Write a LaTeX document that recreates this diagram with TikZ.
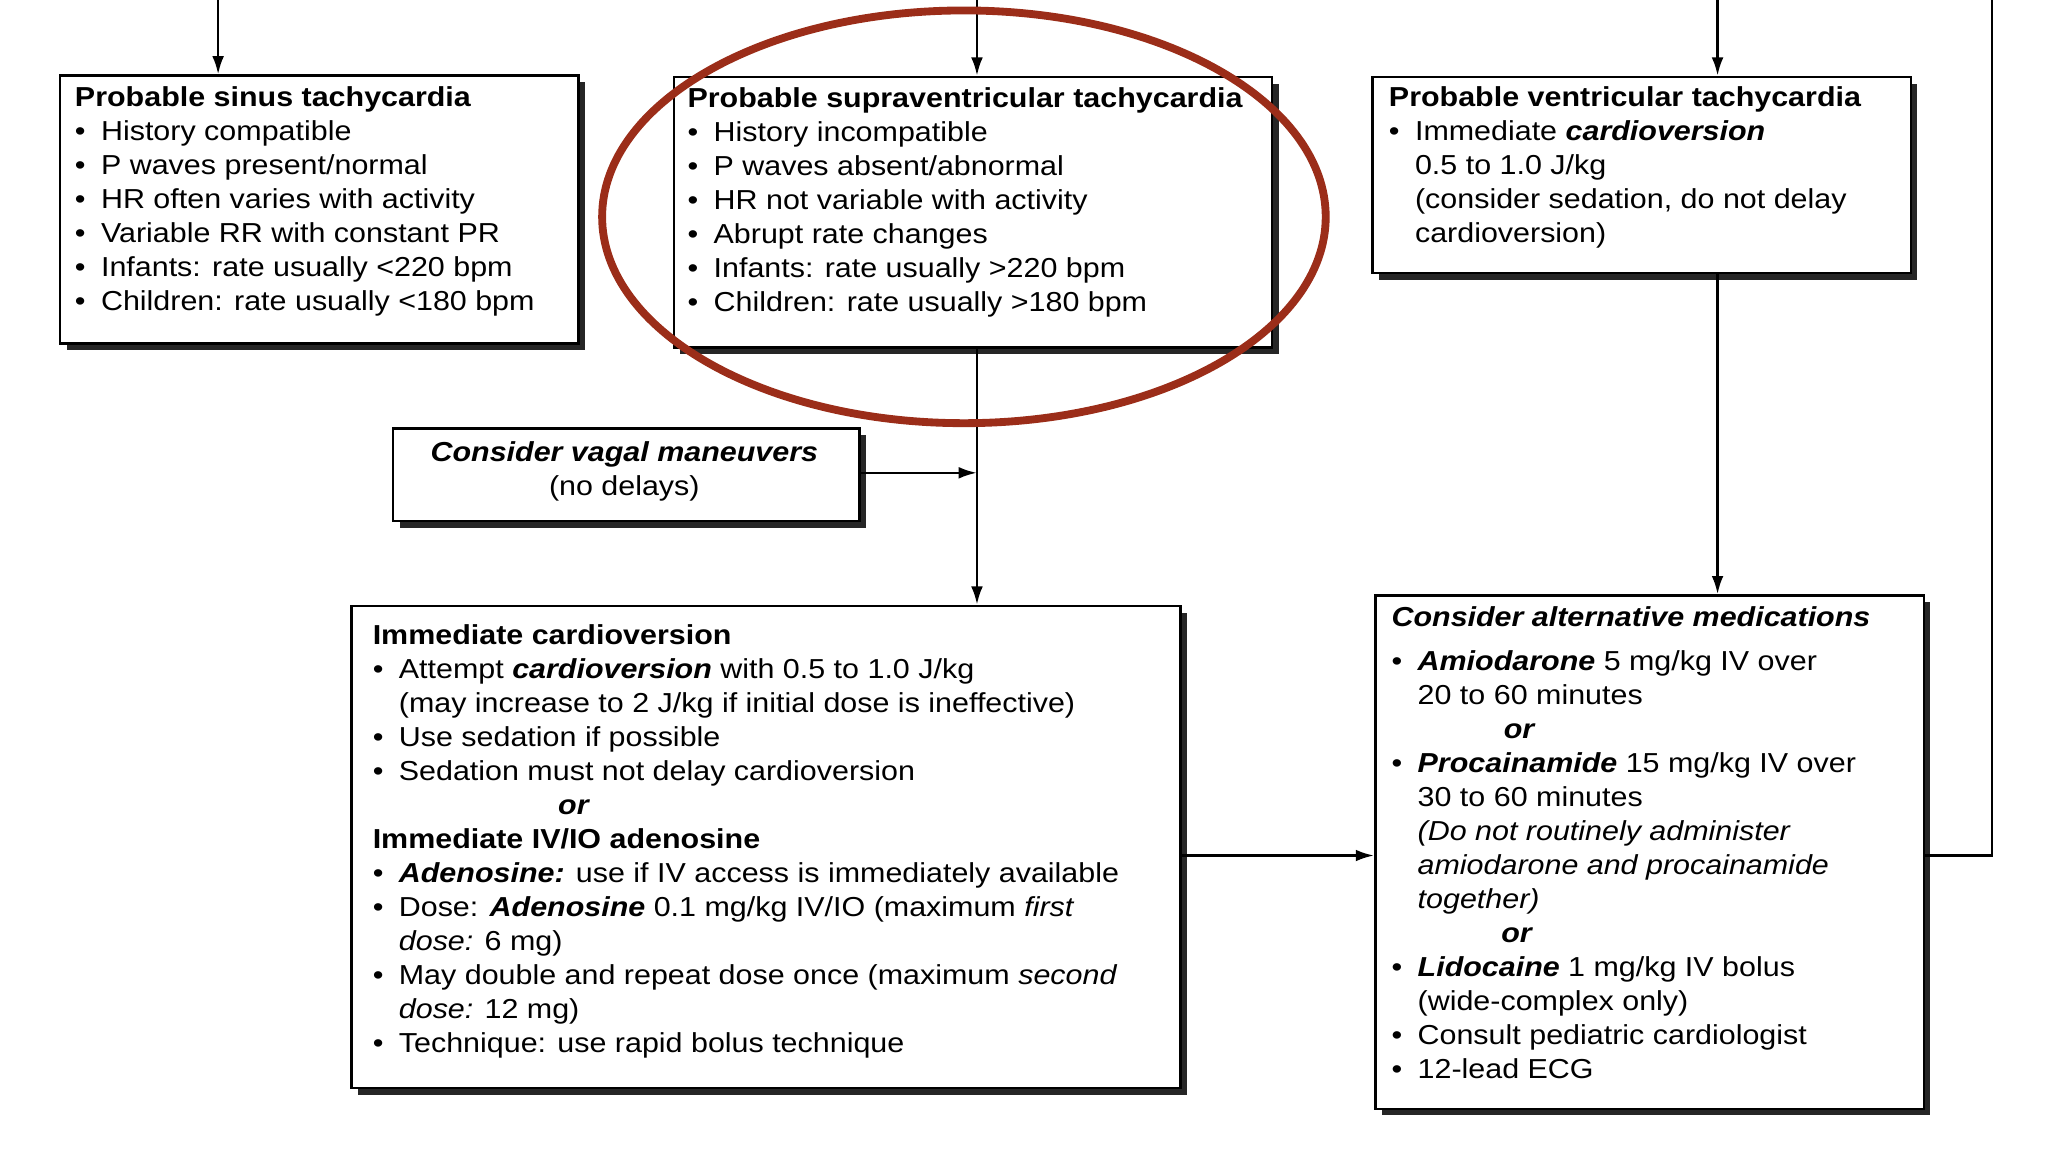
\documentclass[tikz,border=0pt]{standalone}
\usepackage{fontspec}
\setmainfont[FakeStretch=1.11]{Liberation Sans}
\usetikzlibrary{arrows.meta,shadows}
\newcommand\bu{\makebox[10pt][l]{\textbullet}}
\newcommand\ind{\hspace*{10pt}}
\newcommand\bi[1]{\textbf{\textit{#1}}}
\begin{document}
\begin{tikzpicture}[x=0.5pt,y=-0.5pt,
 box/.style={draw=black,line width=1pt,fill=white,anchor=north west,inner sep=0pt,
   drop shadow={shadow xshift=2.5pt,shadow yshift=-2.5pt,fill=black,opacity=0.85}},
 txt/.style={anchor=north west,align=left,inner sep=0pt,font=\fontsize{10.5}{13}\selectfont},
 arr/.style={line width=1pt,-{Latex[length=7pt,width=4.5pt]}},
 ln/.style={line width=1pt}]
\useasboundingbox (0,0) rectangle (1568,882);
\node[box,minimum width=198.5pt,minimum height=102.5pt] (b1) at (45,57) {};
\node[box,minimum width=229pt,minimum height=103.5pt] (b2) at (515,58) {};
\node[box,minimum width=206pt,minimum height=75pt] (b3) at (1050,58) {};
\node[box,minimum width=178.5pt,minimum height=35.5pt] (bv) at (300,327) {};
\node[box,minimum width=317.5pt,minimum height=184.5pt] (bi) at (268,463) {};
\node[box,minimum width=210pt,minimum height=196.5pt] (ba) at (1052,455) {};

\node[txt] at (57,66) {\textbf{Probable sinus tachycardia}\\
\bu History compatible\\ \bu P waves present/normal\\ \bu HR often varies with activity\\
\bu Variable RR with constant PR\\ \bu Infants: rate usually <220 bpm\\ \bu Children: rate usually <180 bpm};
\node[txt] at (526,67) {\textbf{Probable supraventricular tachycardia}\\
\bu History incompatible\\ \bu P waves absent/abnormal\\ \bu HR not variable with activity\\
\bu Abrupt rate changes\\ \bu Infants: rate usually >220 bpm\\ \bu Children: rate usually >180 bpm};
\node[txt] at (1063,66) {\textbf{Probable ventricular tachycardia}\\
\bu Immediate \bi{cardioversion}\\ \ind 0.5 to 1.0 J/kg\\ \ind (consider sedation, do not delay\\ \ind cardioversion)};
\node[txt,anchor=center,align=center] at (478,361) {\bi{Consider vagal maneuvers}\\(no delays)};
\node[txt] at (285,478) {\textbf{Immediate cardioversion}\\
\bu Attempt \bi{cardioversion} with 0.5 to 1.0 J/kg\\
\ind (may increase to 2 J/kg if initial dose is ineffective)\\
\bu Use sedation if possible\\ \bu Sedation must not delay cardioversion\\
\hspace*{71pt}\bi{or}\\
\textbf{Immediate IV/IO adenosine}\\
\bu \bi{Adenosine:} use if IV access is immediately available\\
\bu Dose: \bi{Adenosine} 0.1 mg/kg IV/IO (maximum \textit{first}\\
\ind\textit{dose:} 6 mg)\\
\bu May double and repeat dose once (maximum \textit{second}\\
\ind\textit{dose:} 12 mg)\\
\bu Technique: use rapid bolus technique};
\node[txt] at (1065,464) {\bi{Consider alternative medications}\\[4pt]
\bu \bi{Amiodarone} 5 mg/kg IV over\\ \ind 20 to 60 minutes\\ \hspace*{43pt}\bi{or}\\
\bu \bi{Procainamide} 15 mg/kg IV over\\ \ind 30 to 60 minutes\\
\ind\textit{(Do not routinely administer}\\ \ind\textit{amiodarone and procainamide}\\ \ind\textit{together)}\\
\hspace*{42pt}\bi{or}\\
\bu \bi{Lidocaine} 1 mg/kg IV bolus\\ \ind (wide-complex only)\\
\bu Consult pediatric cardiologist\\ \bu 12-lead ECG};

\coordinate (t1) at (167,0); \coordinate (t2) at (748,0); \coordinate (t3) at (1315,0);
\draw[arr] (t1) -- (b1.north -| t1);
\draw[arr] (t2) -- (b2.north -| t2);
\draw[arr] (t3) -- (b3.north -| t3);
\draw[arr] (b2.south -| t2) -- (bi.north -| t2);
\coordinate (j) at (748,362);
\draw[arr] (bv.east |- j) -- (j);
\draw[arr] (b3.south -| t3) -- (ba.north -| t3);
\coordinate (r) at (1525,655);
\draw[arr] (bi.east |- r) -- (ba.west |- r);
\draw[ln] (1525,0) -- (r) -- (ba.east |- r);
\draw[line width=3pt,draw={rgb,255:red,155;green,45;blue,25}] (738,166) ellipse [x radius=277, y radius=158];
\end{tikzpicture}
\end{document}
